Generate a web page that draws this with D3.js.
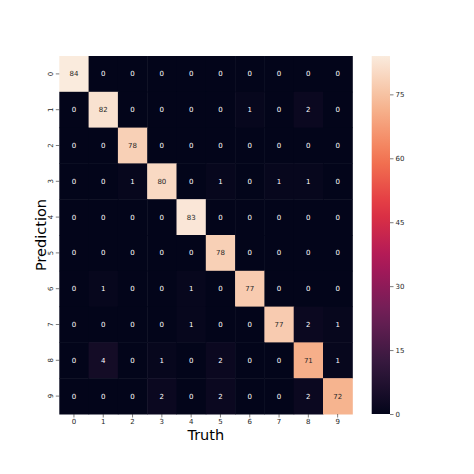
<!DOCTYPE html>
<html>
<head>
<meta charset="utf-8">
<script src="https://cdn.jsdelivr.net/npm/d3@7"></script>
<style>
  body { margin: 0; background: #fff; }
  text { font-family: "DejaVu Sans", sans-serif; }
</style>
</head>
<body>
<svg id="chart" width="474" height="474"></svg>
<script>
// data: rows = prediction, cols = truth
var labels = ["0", "1", "2", "3", "4", "5", "6", "7", "8", "9"];
var row0 = [84, 0, 0, 0, 0, 0, 0, 0, 0, 0];
var row1 = [0, 82, 0, 0, 0, 0, 1, 0, 2, 0];
var row2 = [0, 0, 78, 0, 0, 0, 0, 0, 0, 0];
var row3 = [0, 0, 1, 80, 0, 1, 0, 1, 1, 0];
var row4 = [0, 0, 0, 0, 83, 0, 0, 0, 0, 0];
var row5 = [0, 0, 0, 0, 0, 78, 0, 0, 0, 0];
var row6 = [0, 1, 0, 0, 1, 0, 77, 0, 0, 0];
var row7 = [0, 0, 0, 0, 1, 0, 0, 77, 2, 1];
var row8 = [0, 4, 0, 1, 0, 2, 0, 0, 71, 1];
var row9 = [0, 0, 0, 2, 0, 2, 0, 0, 2, 72];
var colorbarTicks = [0, 15, 30, 45, 60, 75];

var rows = [row0, row1, row2, row3, row4, row5, row6, row7, row8, row9];

// constants
var margin = { top: 56, left: 59.3 },
    width = 293,
    height = 358;

var svg = d3.select("#chart");

// flatten into cells
var cells = [];
rows.forEach(function (r, i) {
    r.forEach(function (v, j) {
        cells.push({ pred: labels[i], truth: labels[j], value: v });
    });
});

var vmax = d3.max(cells, function (d) { return d.value; });

// seaborn "rocket" approximation
var rocketStops = ["#03051a", "#35193e", "#701f57", "#ad1759", "#e13342", "#f37651", "#f6b48f", "#faebdd"];
var color = d3.scaleLinear()
    .domain(rocketStops.map(function (c, i) { return i / (rocketStops.length - 1) * vmax; }))
    .range(rocketStops)
    .interpolate(d3.interpolateRgb);

var x = d3.scaleBand().domain(labels).range([0, width]);
var y = d3.scaleBand().domain(labels).range([0, height]);

var g = svg.append("g")
    .attr("transform", "translate(" + margin.left + "," + margin.top + ")");

g.selectAll("rect.cell")
    .data(cells)
    .enter()
    .append("rect")
    .attr("class", "cell")
    .attr("x", function (d) { return x(d.truth); })
    .attr("y", function (d) { return y(d.pred); })
    .attr("width", x.bandwidth() + 0.5)
    .attr("height", y.bandwidth() + 0.5)
    .attr("fill", function (d) { return color(d.value); });

g.selectAll("text.annot")
    .data(cells)
    .enter()
    .append("text")
    .attr("class", "annot")
    .attr("x", function (d) { return x(d.truth) + x.bandwidth() / 2; })
    .attr("y", function (d) { return y(d.pred) + y.bandwidth() / 2; })
    .attr("text-anchor", "middle")
    .attr("dy", "0.35em")
    .style("font-size", "7px")
    .attr("fill", function (d) {
        var c = d3.rgb(color(d.value));
        var lum = 0.2126 * c.r / 255 + 0.7152 * c.g / 255 + 0.0722 * c.b / 255;
        return lum > 0.408 ? "#262626" : "#ffffff";
    })
    .text(function (d) { return d.value; });

// axes
var xAxis = d3.axisBottom(x).tickSize(3.5).tickPadding(2);
var yAxis = d3.axisLeft(y).tickSize(3.5).tickPadding(2);

var gx = g.append("g")
    .attr("transform", "translate(0," + height + ")")
    .call(xAxis);
gx.select(".domain").remove();
gx.selectAll("text").style("font-size", "7px").attr("fill", "#262626");
gx.selectAll("line").attr("stroke", "#262626").attr("stroke-width", 0.6);

var gy = g.append("g").call(yAxis);
gy.select(".domain").remove();
gy.selectAll("line").attr("stroke", "#262626").attr("stroke-width", 0.6);
gy.selectAll("text")
    .style("font-size", "7px")
    .attr("fill", "#262626")
    .attr("text-anchor", "middle")
    .attr("dy", null)
    .attr("x", null)
    .attr("transform", "translate(-8,0) rotate(-90)")
    .attr("dominant-baseline", "central");

// axis labels
svg.append("text")
    .attr("x", margin.left + width / 2)
    .attr("y", 440)
    .attr("text-anchor", "middle")
    .style("font-size", "14.5px")
    .text("Truth");

svg.append("text")
    .attr("transform", "translate(46," + (margin.top + height / 2) + ") rotate(-90)")
    .attr("text-anchor", "middle")
    .style("font-size", "14.5px")
    .text("Prediction");

// colorbar
var cbX = 371.7, cbW = 18.3;
var cbScale = d3.scaleLinear().domain([0, vmax]).range([margin.top + height, margin.top]);

var defs = svg.append("defs");
var grad = defs.append("linearGradient")
    .attr("id", "cbgrad")
    .attr("x1", "0").attr("y1", "1").attr("x2", "0").attr("y2", "0");
d3.range(0, 1.0001, 0.05).forEach(function (t) {
    grad.append("stop")
        .attr("offset", t)
        .attr("stop-color", color(t * vmax));
});

svg.append("rect")
    .attr("x", cbX)
    .attr("y", margin.top)
    .attr("width", cbW)
    .attr("height", height)
    .attr("fill", "url(#cbgrad)");

var cbAxis = d3.axisRight(cbScale).tickValues(colorbarTicks).tickSize(3.5).tickPadding(2);
var gc = svg.append("g")
    .attr("transform", "translate(" + (cbX + cbW) + ",0)")
    .call(cbAxis);
gc.select(".domain").remove();
gc.selectAll("text").style("font-size", "7px").attr("fill", "#262626");
gc.selectAll("line").attr("stroke", "#262626").attr("stroke-width", 0.6);
</script>
</body>
</html>
